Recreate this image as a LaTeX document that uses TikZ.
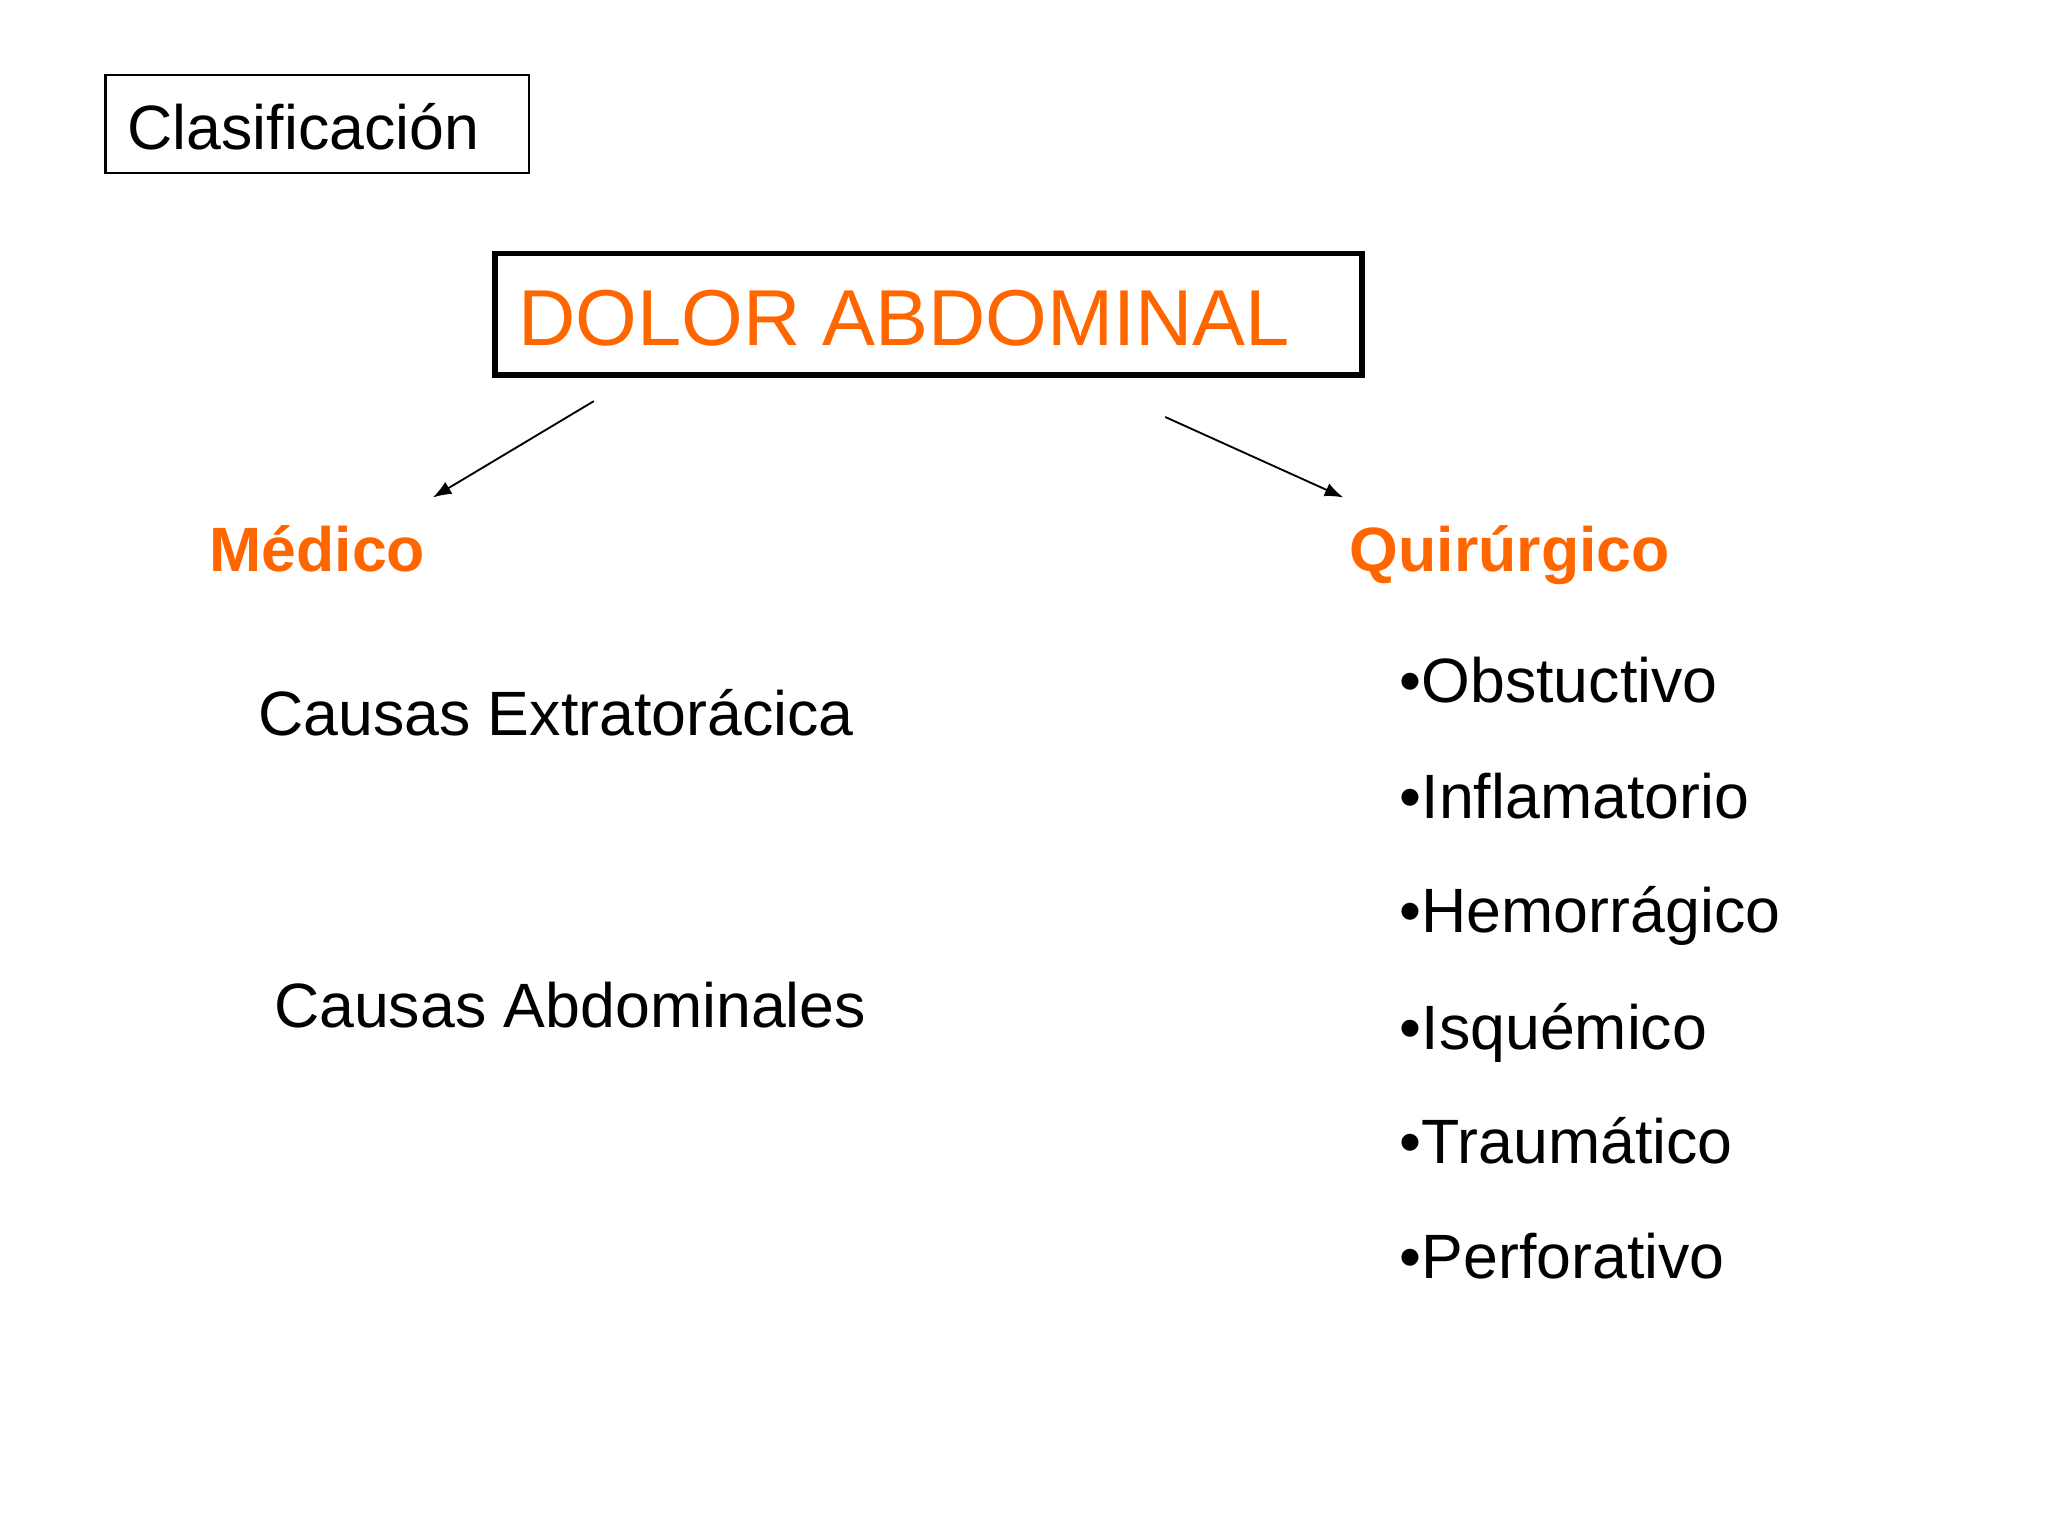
\documentclass[tikz,border=0pt]{standalone}
\usepackage{fontspec}
\setmainfont{Liberation Sans}
\usetikzlibrary{arrows.meta}
\definecolor{orng}{RGB}{255,102,0}
\begin{document}
\begin{tikzpicture}[x=0.01cm,y=-0.01cm,
  txt/.style={anchor=base west,inner sep=0pt,font=\fontsize{13.5}{16}\selectfont},
  head/.style={txt,text=orng,font=\fontsize{13.5}{16}\selectfont\bfseries},
  arr/.style={-{Latex[length=4pt,width=3pt]},line width=0.4pt}]
\useasboundingbox (0,0) rectangle (1552,1164);
\fill[white] (0,0) rectangle (1552,1164);
\draw[line width=0.5pt] (80,57) rectangle (401,131);
\node[txt] (clas) at (96,113) {Clasificación};
\draw[line width=1.2pt] (375,192) rectangle (1032,284);
\node[txt,text=orng,font=\fontsize{17.1}{20}\selectfont] (dolor) at (392,262) {DOLOR ABDOMINAL};
\coordinate (l1) at (450,304); \coordinate (l2) at (328,377);
\coordinate (r1) at (883,316); \coordinate (r2) at (1018,377);
\draw[arr] (l1) -- (l2);
\draw[arr] (r1) -- (r2);
\node[head] (med) at (158,433) {Médico};
\node[head] (qui) at (1022,433) {Quirúrgico};
\node[txt] (c1) at (195,557) {Causas Extratorácica};
\node[txt] (c2) at (207,779) {Causas Abdominales};
\node[txt] (b1) at (1060,532) {•Obstuctivo};
\node[txt] (b2) at (1060,620) {•Inflamatorio};
\node[txt] (b3) at (1060,707) {•Hemorrágico};
\node[txt] (b4) at (1060,795) {•Isquémico};
\node[txt] (b5) at (1060,882) {•Traumático};
\node[txt] (b6) at (1060,969) {•Perforativo};
\end{tikzpicture}
\end{document}
